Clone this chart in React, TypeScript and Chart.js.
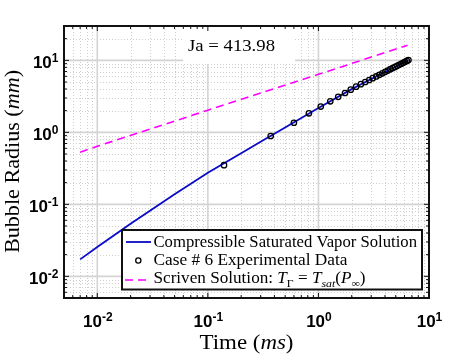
import React, { useEffect, useRef } from "react";
import { Chart, registerables } from "chart.js";
Chart.register(...registerables);

// ---------- data ----------
const curveTime = [0.007, 0.01, 0.02, 0.05, 0.1, 0.2, 0.3, 0.5, 1, 2, 3, 4, 6.5];
const curveRadius = [0.0172, 0.0255, 0.0538, 0.138, 0.274, 0.514, 0.741, 1.17, 2.18, 3.98, 5.51, 6.9, 10.05];

const expTime = [0.14, 0.37, 0.6, 0.82, 1.05, 1.28, 1.51, 1.74, 1.96, 2.19, 2.42, 2.65, 2.88, 3.1, 3.33, 3.56, 3.79, 4.02, 4.24, 4.47, 4.7, 4.93, 5.16, 5.38, 5.61, 5.84, 6.07, 6.3, 6.52];
const expRadius = [0.35, 0.89, 1.36, 1.84, 2.28, 2.7, 3.11, 3.52, 3.92, 4.31, 4.67, 5.0, 5.33, 5.66, 5.98, 6.3, 6.61, 6.92, 7.22, 7.53, 7.82, 8.11, 8.4, 8.69, 8.97, 9.25, 9.54, 9.82, 10.1];

const scrivenTime = [0.007, 0.01, 0.1, 1, 6.4];
const scrivenRadius = [0.53, 0.64, 2.03, 6.4, 16.2];

const xTickValues = [0.01, 0.1, 1, 10];
const xTickExponents = ["-2", "-1", "0", "1"];
const yTickValues = [0.01, 0.1, 1, 10];
const yTickExponents = ["-2", "-1", "0", "1"];

const xMin = 0.005, xMax = 10, yMin = 0.005, yMax = 30;

const legendLabels = ["Compressible Saturated Vapor Solution", "Case # 6 Experimental Data", "Scriven Solution: "];
const annotationText = "Ja = 413.98";

const BLUE = "#0a0ac8";
const MAGENTA = "#ff00ff";
const SERIF = "'Liberation Serif', 'Times New Roman', serif";
const SANS = "'Liberation Sans', Arial, sans-serif";

type Run = { t: string; f: string; dy?: number };

function runsWidth(ctx: CanvasRenderingContext2D, runs: Run[]) {
  let w = 0;
  for (const r of runs) { ctx.font = r.f; w += ctx.measureText(r.t).width; }
  return w;
}
function drawRunsFit(ctx: CanvasRenderingContext2D, runs: Run[], x: number, y: number, target: number) {
  const w = runsWidth(ctx, runs);
  const s = target / w;
  ctx.save();
  ctx.translate(x, y);
  ctx.scale(s, 1);
  ctx.textAlign = "left";
  ctx.textBaseline = "alphabetic";
  let cx = 0;
  for (const r of runs) {
    ctx.font = r.f;
    ctx.fillText(r.t, cx, r.dy || 0);
    cx += ctx.measureText(r.t).width;
  }
  ctx.restore();
}

function minorValues(min: number, max: number) {
  const out: number[] = [];
  for (let e = Math.floor(Math.log10(min)) - 1; e <= Math.ceil(Math.log10(max)); e++) {
    for (let m = 2; m <= 9; m++) {
      const v = m * Math.pow(10, e);
      if (v > min * 1.0001 && v < max * 0.9999) out.push(v);
    }
  }
  return out;
}
function majorValues(min: number, max: number) {
  const out: number[] = [];
  for (let e = Math.floor(Math.log10(min)) - 1; e <= Math.ceil(Math.log10(max)); e++) {
    const v = Math.pow(10, e);
    if (v > min * 1.0001 && v < max * 0.9999) out.push(v);
  }
  return out;
}

const decor = {
  id: "decor",
  beforeDraw(chart: any) {
    const ctx = chart.ctx;
    ctx.save();
    ctx.fillStyle = "#fff";
    ctx.fillRect(0, 0, chart.width, chart.height);
    ctx.restore();
  },
  beforeDatasetsDraw(chart: any) {
    const { ctx, chartArea: a } = chart;
    const xs = chart.scales.x, ys = chart.scales.y;
    ctx.save();
    ctx.strokeStyle = "#cfcfcf";
    ctx.lineWidth = 1;
    ctx.setLineDash([1, 2]);
    for (const v of minorValues(xMin, xMax)) {
      const px = Math.round(xs.getPixelForValue(v)) + 0.5;
      ctx.beginPath(); ctx.moveTo(px, a.top); ctx.lineTo(px, a.bottom); ctx.stroke();
    }
    for (const v of minorValues(yMin, yMax)) {
      const py = Math.round(ys.getPixelForValue(v)) + 0.5;
      ctx.beginPath(); ctx.moveTo(a.left, py); ctx.lineTo(a.right, py); ctx.stroke();
    }
    ctx.setLineDash([]);
    ctx.strokeStyle = "#d4d4d4";
    ctx.lineWidth = 1.6;
    for (const v of majorValues(xMin, xMax)) {
      const px = xs.getPixelForValue(v);
      ctx.beginPath(); ctx.moveTo(px, a.top); ctx.lineTo(px, a.bottom); ctx.stroke();
    }
    for (const v of majorValues(yMin, yMax)) {
      const py = ys.getPixelForValue(v);
      ctx.beginPath(); ctx.moveTo(a.left, py); ctx.lineTo(a.right, py); ctx.stroke();
    }
    ctx.restore();
  },
  afterDatasetsDraw(chart: any) {
    const { ctx, chartArea: a } = chart;
    const xs = chart.scales.x, ys = chart.scales.y;
    ctx.save();

    // annotation box
    ctx.fillStyle = "#fff";
    ctx.fillRect(183, a.top + 1, 112, 37);
    ctx.fillStyle = "#000";
    drawRunsFit(ctx, [{ t: annotationText, f: `17px ${SERIF}` }], 188, 51, 87);

    // axes box
    ctx.strokeStyle = "#111";
    ctx.lineWidth = 2;
    ctx.strokeRect(a.left, a.top, a.right - a.left, a.bottom - a.top);

    // inward tick marks
    ctx.lineWidth = 1;
    const tick = (vals: number[], len: number) => {
      for (const v of vals) {
        const px = xs.getPixelForValue(v);
        ctx.beginPath();
        ctx.moveTo(px, a.bottom); ctx.lineTo(px, a.bottom - len);
        ctx.moveTo(px, a.top); ctx.lineTo(px, a.top + len);
        ctx.stroke();
      }
    };
    const tickY = (vals: number[], len: number) => {
      for (const v of vals) {
        const py = ys.getPixelForValue(v);
        ctx.beginPath();
        ctx.moveTo(a.left, py); ctx.lineTo(a.left + len, py);
        ctx.moveTo(a.right, py); ctx.lineTo(a.right - len, py);
        ctx.stroke();
      }
    };
    tick(majorValues(xMin, xMax), 5);
    tick(minorValues(xMin, xMax), 3);
    tickY(majorValues(yMin, yMax), 5);
    tickY(minorValues(yMin, yMax), 3);

    // tick labels
    ctx.fillStyle = "#000";
    ctx.textBaseline = "alphabetic";
    const baseF = `bold 17px ${SANS}`;
    const expF = `bold 12px ${SANS}`;
    xTickValues.forEach((v, i) => {
      const px = xs.getPixelForValue(v);
      ctx.font = baseF; const w1 = ctx.measureText("10").width;
      ctx.font = expF; const w2 = ctx.measureText(xTickExponents[i]).width;
      const x0 = px - (w1 + w2) / 2 + 0.5;
      ctx.textAlign = "left";
      ctx.font = baseF; ctx.fillText("10", x0, a.bottom + 29);
      ctx.font = expF; ctx.fillText(xTickExponents[i], x0 + w1, a.bottom + 22.5);
    });
    yTickValues.forEach((v, i) => {
      const py = ys.getPixelForValue(v);
      ctx.font = baseF; const w1 = ctx.measureText("10").width;
      ctx.font = expF; const w2 = ctx.measureText(yTickExponents[i]).width;
      const x0 = 58.5 - (w1 + w2);
      ctx.textAlign = "left";
      ctx.font = baseF; ctx.fillText("10", x0, py + 8);
      ctx.font = expF; ctx.fillText(yTickExponents[i], x0 + w1, py + 2);
    });

    // axis titles
    const tf = `20px ${SERIF}`;
    const tfi = `italic 20px ${SERIF}`;
    drawRunsFit(ctx, [{ t: "Time (", f: tf }, { t: "ms", f: tfi }, { t: ")", f: tf }], 199.5, 349, 94);
    ctx.save();
    ctx.translate(19, 161.5);
    ctx.rotate(-Math.PI / 2);
    drawRunsFit(ctx, [{ t: "Bubble Radius (", f: tf }, { t: "mm", f: tfi }, { t: ")", f: tf }], -91.5, 0, 183);
    ctx.restore();

    // legend
    ctx.fillStyle = "#fff";
    ctx.fillRect(122, 230, 300, 59.5);
    ctx.strokeStyle = "#111";
    ctx.lineWidth = 2;
    ctx.strokeRect(122, 230, 300, 59.5);

    ctx.strokeStyle = BLUE; ctx.lineWidth = 1.8;
    ctx.beginPath(); ctx.moveTo(126, 242); ctx.lineTo(151, 242); ctx.stroke();
    ctx.strokeStyle = "#000"; ctx.lineWidth = 1.3;
    ctx.beginPath(); ctx.arc(138.3, 260.5, 2.6, 0, Math.PI * 2); ctx.stroke();
    ctx.strokeStyle = MAGENTA; ctx.lineWidth = 1.6; ctx.setLineDash([8, 5]);
    ctx.beginPath(); ctx.moveTo(125, 280); ctx.lineTo(151, 280); ctx.stroke();
    ctx.setLineDash([]);

    ctx.fillStyle = "#000";
    const lf = `16px ${SERIF}`;
    const lfi = `italic 16px ${SERIF}`;
    const sf = `11px ${SERIF}`;
    const sfi = `italic 11px ${SERIF}`;
    drawRunsFit(ctx, [{ t: legendLabels[0], f: lf }], 153.5, 246.5, 263.5);
    drawRunsFit(ctx, [{ t: legendLabels[1], f: lf }], 153.5, 264.5, 194);
    drawRunsFit(ctx, [
      { t: legendLabels[2], f: lf },
      { t: "T", f: lfi }, { t: "Γ", f: sf, dy: 3.5 },
      { t: " = ", f: lf },
      { t: "T", f: lfi }, { t: "sat", f: sfi, dy: 3.5 },
      { t: "(", f: lf }, { t: "P", f: lfi }, { t: "∞", f: sf, dy: 3.5 }, { t: ")", f: lf },
    ], 153.5, 283, 212);

    ctx.restore();
  },
};

export default function App() {
  const ref = useRef<HTMLCanvasElement>(null);
  useEffect(() => {
    const canvas = ref.current!;
    const hidden = {
      ticks: { display: false, padding: 0 },
      grid: { display: false, drawTicks: false, tickLength: 0 },
      border: { display: false },
      title: { display: false },
    };
    const chart = new Chart(canvas, {
      type: "scatter",
      data: {
        datasets: [
          {
            label: legendLabels[1],
            data: expTime.map((t, i) => ({ x: t, y: expRadius[i] })),
            showLine: false,
            pointRadius: 2.7,
            pointBorderColor: "#000",
            pointBackgroundColor: "rgba(0,0,0,0)",
            pointBorderWidth: 1.3,
            order: 0,
          },
          {
            label: legendLabels[0],
            data: curveTime.map((t, i) => ({ x: t, y: curveRadius[i] })),
            showLine: true,
            borderColor: BLUE,
            borderWidth: 1.8,
            pointRadius: 0,
            order: 1,
          },
          {
            label: legendLabels[2],
            data: scrivenTime.map((t, i) => ({ x: t, y: scrivenRadius[i] })),
            showLine: true,
            borderColor: MAGENTA,
            borderWidth: 1.6,
            borderDash: [8, 5],
            pointRadius: 0,
            order: 2,
          },
        ],
      },
      options: {
        responsive: false,
        animation: false,
        devicePixelRatio: 1,
        events: [],
        layout: { padding: { left: 64, right: 45, top: 26, bottom: 57 } },
        scales: {
          x: { type: "logarithmic", min: xMin, max: xMax, ...hidden },
          y: { type: "logarithmic", min: yMin, max: yMax, ...hidden },
        },
        plugins: { legend: { display: false }, tooltip: { enabled: false } },
      },
      plugins: [decor],
    } as any);
    return () => chart.destroy();
  }, []);
  return (
    <div style={{ position: "fixed", left: 0, top: 0, width: 474, height: 355, background: "#fff" }}>
      <canvas ref={ref} width={474} height={355} style={{ display: "block" }} />
    </div>
  );
}
